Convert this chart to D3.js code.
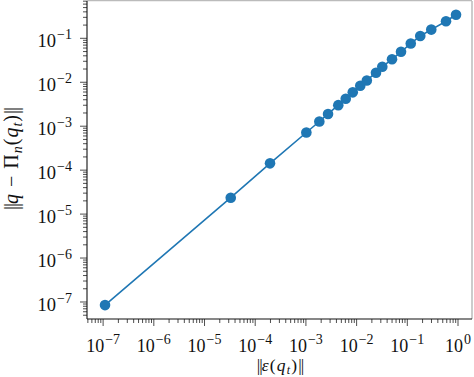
<!DOCTYPE html>
<html>
<head>
<meta charset="utf-8">
<script src="https://cdn.jsdelivr.net/npm/d3@7"></script>
<style>
  html, body { margin: 0; padding: 0; background: #fff; }
  svg { display: block; }
  text { font-family: 'Liberation Serif', 'DejaVu Serif', serif; }
</style>
</head>
<body>
<div id="chart"></div>
<script>
// values (both axes log10)
const errInput = [1.09e-7, 3.29e-5, 1.96e-4, 1.02e-3, 1.84e-3, 2.73e-3, 4.35e-3, 6.1e-3, 8.4e-3, 1.18e-2,
  1.59e-2, 2.41e-2, 3.21e-2, 4.99e-2, 7.51e-2, 0.117, 0.180, 0.297, 0.580, 0.914];
const errProj = [8.5e-8, 2.36e-5, 1.43e-4, 7.19e-4, 1.28e-3, 1.90e-3, 3.01e-3, 4.23e-3, 5.9e-3, 8.36e-3,
  1.10e-2, 1.65e-2, 2.26e-2, 3.33e-2, 4.93e-2, 7.62e-2, 0.113, 0.158, 0.245, 0.343];
const xTickExp = [-7, -6, -5, -4, -3, -2, -1, 0];
const yTickExp = [-7, -6, -5, -4, -3, -2, -1];

const width = 474, height = 377;
const margin = { left: 87, right: 2, top: 1, bottom: 58 };
const color = '#1f77b4';

const svg = d3.select('#chart').append('svg')
  .attr('width', width)
  .attr('height', height);

const x = d3.scaleLog()
  .domain([Math.pow(10, -7.318), Math.pow(10, 0.276)])
  .range([margin.left, width - margin.right]);
const y = d3.scaleLog()
  .domain([Math.pow(10, -7.387), Math.pow(10, -0.151)])
  .range([height - margin.bottom, margin.top]);

// minor ticks 2..9 per decade
function minorTicks(lo, hi) {
  const out = [];
  for (let e = lo; e <= hi; e++) {
    for (let m = 2; m <= 9; m++) out.push(m * Math.pow(10, e));
  }
  return out;
}

const x0 = x.range()[0], x1 = x.range()[1];
const y0 = y.range()[0], y1 = y.range()[1];

// frame (top/right edge is cut off in the reference, drawn faint)
svg.append('line').attr('x1', x0).attr('x2', x1).attr('y1', y1 - 0.5).attr('y2', y1 - 0.5)
  .attr('stroke', '#bbb').attr('stroke-width', 1.5);
svg.append('line').attr('x1', x1).attr('x2', x1).attr('y1', y1).attr('y2', y0)
  .attr('stroke', '#bbb').attr('stroke-width', 1.5);

const xMinor = minorTicks(-8, 0).filter(v => v >= x.domain()[0] && v <= x.domain()[1]);
const yMinor = minorTicks(-8, -1).filter(v => v >= y.domain()[0] && v <= y.domain()[1]);

const ticks = svg.append('g').attr('stroke', '#222').attr('stroke-width', 0.8);
ticks.selectAll('.xmin').data(xMinor).join('line')
  .attr('x1', d => x(d)).attr('x2', d => x(d))
  .attr('y1', y0).attr('y2', y0 + 4);
ticks.selectAll('.xmaj').data(xTickExp).join('line')
  .attr('x1', d => x(Math.pow(10, d))).attr('x2', d => x(Math.pow(10, d)))
  .attr('y1', y0).attr('y2', y0 + 7);
ticks.selectAll('.ymin').data(yMinor).join('line')
  .attr('x1', x0 - 4).attr('x2', x0)
  .attr('y1', d => y(d)).attr('y2', d => y(d));
ticks.selectAll('.ymaj').data(yTickExp).join('line')
  .attr('x1', x0 - 7).attr('x2', x0)
  .attr('y1', d => y(Math.pow(10, d))).attr('y2', d => y(Math.pow(10, d)));

// spines left / bottom
svg.append('line').attr('x1', x0).attr('x2', x0).attr('y1', y1).attr('y2', y0)
  .attr('stroke', '#111').attr('stroke-width', 1.1);
svg.append('line').attr('x1', x0).attr('x2', x1).attr('y1', y0).attr('y2', y0)
  .attr('stroke', '#111').attr('stroke-width', 1.1);

// "10^e" labels
function powLabel(sel, e) {
  sel.append('tspan').text('10');
  sel.append('tspan').attr('font-size', 14).attr('dx', 1).attr('dy', -8)
    .text(e < 0 ? '\u2212' + Math.abs(e) : String(e));
}

svg.selectAll('.xlab').data(xTickExp).join('text')
  .attr('x', d => x(Math.pow(10, d)))
  .attr('y', y0 + 33)
  .attr('text-anchor', 'middle')
  .attr('font-size', 18).attr('fill', '#111')
  .each(function (d) { powLabel(d3.select(this), d); });

svg.selectAll('.ylab').data(yTickExp).join('text')
  .attr('x', x0 - 15)
  .attr('y', d => y(Math.pow(10, d)) + 9)
  .attr('text-anchor', 'end')
  .attr('font-size', 18.5).attr('fill', '#111')
  .each(function (d) { powLabel(d3.select(this), d); });

// norm bars: two plain "|" so no fallback font is needed
const bars = '||';

// axis titles
const xt = svg.append('text')
  .attr('x', 280).attr('y', 371)
  .attr('text-anchor', 'middle')
  .attr('letter-spacing', 1.2)
  .attr('font-size', 17.5).attr('fill', '#111');
xt.append('tspan').attr('letter-spacing', -1).text(bars);
xt.append('tspan').attr('font-style', 'italic').text('\u03B5');
xt.append('tspan').text('(');
xt.append('tspan').attr('font-style', 'italic').text('q');
xt.append('tspan').attr('font-style', 'italic').attr('font-size', 12).attr('dy', 3).text('t');
xt.append('tspan').attr('dy', -3).text(')');
xt.append('tspan').attr('letter-spacing', -1).text(bars);

const yt = svg.append('text')
  .attr('transform', 'translate(18,159) rotate(-90)')
  .attr('text-anchor', 'middle')
  .attr('letter-spacing', 1)
  .attr('font-size', 20).attr('fill', '#111');
yt.append('tspan').attr('letter-spacing', -1).text(bars);
yt.append('tspan').attr('font-style', 'italic').text('q');
yt.append('tspan').text(' \u2212 \u03A0');
yt.append('tspan').attr('font-style', 'italic').attr('font-size', 14).attr('dy', 4).text('n');
yt.append('tspan').attr('dy', -4).text('(');
yt.append('tspan').attr('font-style', 'italic').text('q');
yt.append('tspan').attr('font-style', 'italic').attr('font-size', 14).attr('dy', 4).text('t');
yt.append('tspan').attr('dy', -4).text(')');
yt.append('tspan').attr('letter-spacing', -1).text(bars);

// series
const pts = errInput.map((v, i) => [v, errProj[i]]);
svg.append('path')
  .datum(pts)
  .attr('fill', 'none')
  .attr('stroke', color)
  .attr('stroke-width', 1.6)
  .attr('d', d3.line().x(d => x(d[0])).y(d => y(d[1])));

svg.selectAll('circle').data(pts).join('circle')
  .attr('cx', d => x(d[0]))
  .attr('cy', d => y(d[1]))
  .attr('r', 5.3)
  .attr('fill', color);
</script>
</body>
</html>
